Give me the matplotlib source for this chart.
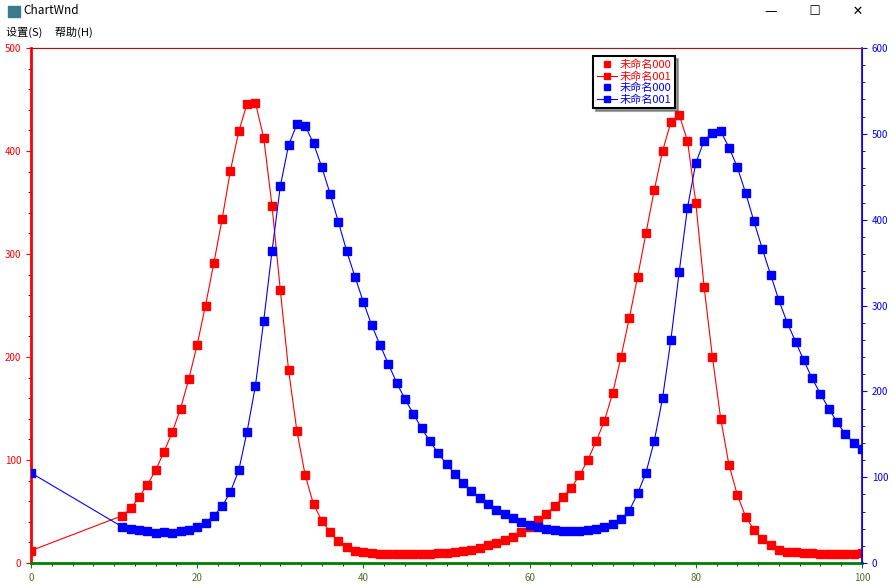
import numpy as np
import matplotlib.pyplot as plt
from matplotlib.lines import Line2D

plt.rcParams['font.family'] = ['Noto Sans CJK SC', 'DejaVu Sans']

# red series (left axis)
red_x = [0] + list(range(11, 101))
red_y = [12, 46, 53, 64, 76, 90, 108, 127, 150, 179, 212, 250, 291, 334, 381, 419, 446, 447,
         413, 347, 265, 187, 128, 85, 57, 41, 30, 21, 15.5, 11.6, 10.7,
         10, 9, 9, 9, 9, 9, 9, 9, 10,
         10, 11, 12, 13, 15, 17, 19, 22, 25, 30, 35, 42, 48, 55, 64, 73, 85, 100, 118, 138, 165,
         200, 238, 278, 320, 362, 400, 428, 435, 410, 350, 268, 200, 140, 95, 66, 45, 32, 23, 17,
         13, 11, 11, 10, 10, 9, 9, 9, 9, 9, 10]

# blue series (right axis)
blue_x = [0] + list(range(11, 101))
blue_y = [105, 42, 40, 38, 37, 35, 36, 35, 37, 38, 42, 47, 55, 66, 83, 108, 153, 206, 282, 363,
          439, 487, 511, 509, 489, 461, 430, 397, 363, 333, 304, 277, 254, 232, 210, 191, 174,
          157, 142, 128, 115, 104, 93, 84, 76, 69, 62, 57, 52, 48, 44, 42, 40, 38, 37, 37, 37,
          38, 40, 42, 45, 51, 61, 81, 105, 142, 192, 260, 339, 414, 466, 492, 501, 503, 484,
          461, 431, 398, 366, 336, 306, 280, 258, 236, 215, 197, 180, 164, 150, 140, 133]

names = ['未命名000', '未命名001', '未命名000', '未命名001']

fig = plt.figure(figsize=(8.93, 5.88), dpi=100)
W, H = 893, 588

# window chrome
fig.patches.append(plt.Rectangle((0, (H - 22) / H), 1, 22 / H, transform=fig.transFigure,
                                 color='white', zorder=0))
fig.patches.append(plt.Rectangle((8 / W, (H - 17) / H), 12 / W, 11 / H, transform=fig.transFigure,
                                 color='#3a7a8a', zorder=1))
fig.text(23 / W, (H - 11) / H, 'ChartWnd', fontsize=8.5, va='center', ha='left')
fig.text(0.857, (H - 11) / H, '—        ☐        ✕', fontsize=9, va='center', ha='left',
         family=['DejaVu Sans'])
fig.text(6 / W, (H - 32) / H, '设置(S)     帮助(H)', fontsize=8, va='center', ha='left')

ax = fig.add_axes([31 / W, 25 / H, 831 / W, 515 / H])
ax2 = ax.twinx()

ax.plot(red_x, red_y, color='red', lw=0.8)
ax.plot(red_x, red_y, 's', color='red', ms=5.5, ls='none')
ax2.plot(blue_x, blue_y, color='blue', lw=0.8)
ax2.plot(blue_x, blue_y, 's', color='blue', ms=5.5, ls='none')

ax.set_xlim(0, 100)
ax.set_ylim(0, 500)
ax2.set_ylim(0, 600)
ax.set_xticks(np.arange(0, 101, 20))
ax.set_xticks(np.arange(0, 101, 2.5), minor=True)
ax.set_yticks(np.arange(0, 501, 100))
ax.set_yticks(np.arange(0, 501, 20), minor=True)
ax2.set_yticks(np.arange(0, 601, 100))
ax2.set_yticks(np.arange(0, 601, 20), minor=True)

ax.tick_params(axis='x', colors='green', labelcolor='#556b2f', labelsize=7, direction='out')
ax.tick_params(axis='y', colors='red', labelsize=7)
ax2.tick_params(axis='y', colors='blue', labelsize=7)
for a in (ax, ax2):
    for s in a.spines.values():
        s.set_color('#8b2020')
        s.set_linewidth(0.8)
ax.spines['left'].set_color('red')
ax.spines['left'].set_linewidth(2)
ax.spines['bottom'].set_color('green')
ax.spines['bottom'].set_linewidth(2)
ax2.spines['right'].set_color('blue')
ax2.spines['right'].set_linewidth(1.2)
ax2.spines['left'].set_visible(False)
ax2.spines['bottom'].set_visible(False)

handles = [Line2D([], [], color='red', marker='s', ls='none', ms=5),
           Line2D([], [], color='red', marker='s', lw=0.8, ms=5),
           Line2D([], [], color='blue', marker='s', ls='none', ms=5),
           Line2D([], [], color='blue', marker='s', lw=0.8, ms=5)]
leg = ax2.legend(handles, names, loc='upper left', bbox_to_anchor=(0.67, 0.995),
                 fontsize=8, frameon=True, shadow=True, fancybox=False,
                 handlelength=1.8, borderpad=0.3, labelspacing=0.1, handletextpad=0.3)
leg.get_frame().set_edgecolor('black')
leg.get_frame().set_linewidth(1.5)
for t, c in zip(leg.get_texts(), ['red', 'red', 'blue', 'blue']):
    t.set_color(c)
    t.set_style('italic')

fig.savefig('out.png', dpi=100)
